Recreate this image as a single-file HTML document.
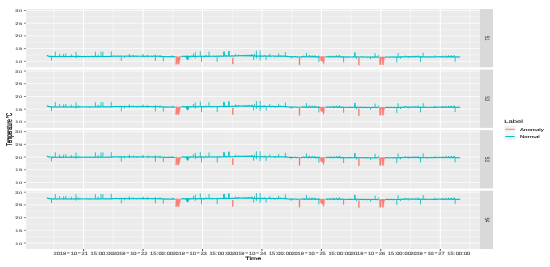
<!DOCTYPE html>
<html><head><meta charset="utf-8"><title>Temperature anomalies</title>
<style>
html,body{margin:0;padding:0;background:#fff;}
body{width:550px;height:267px;overflow:hidden;}
svg{display:block;filter:blur(0.2px);}
text{font-family:"Liberation Sans",sans-serif;text-rendering:geometricPrecision;stroke-width:1.5px;paint-order:stroke;}
.ax,.axx{stroke:#4D4D4D;} .ax{stroke-width:2px;} .axx{stroke-width:2.5px;} .st{stroke:#1A1A1A;stroke-width:0px;} .ti,.lt{stroke:#000;} .ti{stroke-width:3px;}
.tx{filter:url(#sb);}
.ax{font-size:88px;letter-spacing:6px;fill:#4D4D4D;}
.axx{font-size:86px;fill:#4D4D4D;}
.hy{font-size:140px;}
.st{font-size:96px;fill:#1A1A1A;}
.ti{font-size:110px;fill:#000;}
.lg{font-size:115px;fill:#000;stroke:#000;}
.lt{font-size:92px;fill:#000;}
</style></head>
<body>
<svg width="550" height="267" viewBox="0 0 550 267">
<defs><filter id="sb" x="-20%" y="-50%" width="140%" height="200%"><feGaussianBlur stdDeviation="0.12"/></filter></defs>
<rect width="550" height="267" fill="#fff"/>
<rect x="26.0" y="9.00" width="454.00" height="58.275" fill="#EBEBEB"/>
<line x1="26.0" x2="480.0" y1="16.85" y2="16.85" stroke="#fff" stroke-width="0.35"/>
<line x1="26.0" x2="480.0" y1="29.55" y2="29.55" stroke="#fff" stroke-width="0.35"/>
<line x1="26.0" x2="480.0" y1="42.25" y2="42.25" stroke="#fff" stroke-width="0.35"/>
<line x1="26.0" x2="480.0" y1="54.95" y2="54.95" stroke="#fff" stroke-width="0.35"/>
<line x1="53.87" x2="53.87" y1="9.00" y2="67.28" stroke="#fff" stroke-width="0.5"/>
<line x1="113.32" x2="113.32" y1="9.00" y2="67.28" stroke="#fff" stroke-width="0.5"/>
<line x1="172.78" x2="172.78" y1="9.00" y2="67.28" stroke="#fff" stroke-width="0.5"/>
<line x1="232.22" x2="232.22" y1="9.00" y2="67.28" stroke="#fff" stroke-width="0.5"/>
<line x1="291.68" x2="291.68" y1="9.00" y2="67.28" stroke="#fff" stroke-width="0.5"/>
<line x1="351.12" x2="351.12" y1="9.00" y2="67.28" stroke="#fff" stroke-width="0.5"/>
<line x1="410.58" x2="410.58" y1="9.00" y2="67.28" stroke="#fff" stroke-width="0.5"/>
<line x1="470.02" x2="470.02" y1="9.00" y2="67.28" stroke="#fff" stroke-width="0.5"/>
<line x1="26.0" x2="480.0" y1="10.50" y2="10.50" stroke="#fff" stroke-width="0.7"/>
<line x1="26.0" x2="480.0" y1="23.20" y2="23.20" stroke="#fff" stroke-width="0.7"/>
<line x1="26.0" x2="480.0" y1="35.90" y2="35.90" stroke="#fff" stroke-width="0.7"/>
<line x1="26.0" x2="480.0" y1="48.60" y2="48.60" stroke="#fff" stroke-width="0.7"/>
<line x1="26.0" x2="480.0" y1="61.30" y2="61.30" stroke="#fff" stroke-width="0.7"/>
<line x1="83.60" x2="83.60" y1="9.00" y2="67.28" stroke="#fff" stroke-width="1"/>
<line x1="143.05" x2="143.05" y1="9.00" y2="67.28" stroke="#fff" stroke-width="1"/>
<line x1="202.50" x2="202.50" y1="9.00" y2="67.28" stroke="#fff" stroke-width="1"/>
<line x1="261.95" x2="261.95" y1="9.00" y2="67.28" stroke="#fff" stroke-width="1"/>
<line x1="321.40" x2="321.40" y1="9.00" y2="67.28" stroke="#fff" stroke-width="1"/>
<line x1="380.85" x2="380.85" y1="9.00" y2="67.28" stroke="#fff" stroke-width="1"/>
<line x1="440.30" x2="440.30" y1="9.00" y2="67.28" stroke="#fff" stroke-width="1"/>
<rect x="480.0" y="9.00" width="13.0" height="58.275" fill="#D9D9D9"/>
<rect x="26.0" y="69.58" width="454.00" height="58.275" fill="#EBEBEB"/>
<line x1="26.0" x2="480.0" y1="77.42" y2="77.42" stroke="#fff" stroke-width="0.35"/>
<line x1="26.0" x2="480.0" y1="90.12" y2="90.12" stroke="#fff" stroke-width="0.35"/>
<line x1="26.0" x2="480.0" y1="102.82" y2="102.82" stroke="#fff" stroke-width="0.35"/>
<line x1="26.0" x2="480.0" y1="115.52" y2="115.52" stroke="#fff" stroke-width="0.35"/>
<line x1="53.87" x2="53.87" y1="69.58" y2="127.85" stroke="#fff" stroke-width="0.5"/>
<line x1="113.32" x2="113.32" y1="69.58" y2="127.85" stroke="#fff" stroke-width="0.5"/>
<line x1="172.78" x2="172.78" y1="69.58" y2="127.85" stroke="#fff" stroke-width="0.5"/>
<line x1="232.22" x2="232.22" y1="69.58" y2="127.85" stroke="#fff" stroke-width="0.5"/>
<line x1="291.68" x2="291.68" y1="69.58" y2="127.85" stroke="#fff" stroke-width="0.5"/>
<line x1="351.12" x2="351.12" y1="69.58" y2="127.85" stroke="#fff" stroke-width="0.5"/>
<line x1="410.58" x2="410.58" y1="69.58" y2="127.85" stroke="#fff" stroke-width="0.5"/>
<line x1="470.02" x2="470.02" y1="69.58" y2="127.85" stroke="#fff" stroke-width="0.5"/>
<line x1="26.0" x2="480.0" y1="71.07" y2="71.07" stroke="#fff" stroke-width="0.7"/>
<line x1="26.0" x2="480.0" y1="83.77" y2="83.77" stroke="#fff" stroke-width="0.7"/>
<line x1="26.0" x2="480.0" y1="96.47" y2="96.47" stroke="#fff" stroke-width="0.7"/>
<line x1="26.0" x2="480.0" y1="109.17" y2="109.17" stroke="#fff" stroke-width="0.7"/>
<line x1="26.0" x2="480.0" y1="121.87" y2="121.87" stroke="#fff" stroke-width="0.7"/>
<line x1="83.60" x2="83.60" y1="69.58" y2="127.85" stroke="#fff" stroke-width="1"/>
<line x1="143.05" x2="143.05" y1="69.58" y2="127.85" stroke="#fff" stroke-width="1"/>
<line x1="202.50" x2="202.50" y1="69.58" y2="127.85" stroke="#fff" stroke-width="1"/>
<line x1="261.95" x2="261.95" y1="69.58" y2="127.85" stroke="#fff" stroke-width="1"/>
<line x1="321.40" x2="321.40" y1="69.58" y2="127.85" stroke="#fff" stroke-width="1"/>
<line x1="380.85" x2="380.85" y1="69.58" y2="127.85" stroke="#fff" stroke-width="1"/>
<line x1="440.30" x2="440.30" y1="69.58" y2="127.85" stroke="#fff" stroke-width="1"/>
<rect x="480.0" y="69.58" width="13.0" height="58.275" fill="#D9D9D9"/>
<rect x="26.0" y="130.15" width="454.00" height="58.275" fill="#EBEBEB"/>
<line x1="26.0" x2="480.0" y1="138.00" y2="138.00" stroke="#fff" stroke-width="0.35"/>
<line x1="26.0" x2="480.0" y1="150.70" y2="150.70" stroke="#fff" stroke-width="0.35"/>
<line x1="26.0" x2="480.0" y1="163.40" y2="163.40" stroke="#fff" stroke-width="0.35"/>
<line x1="26.0" x2="480.0" y1="176.10" y2="176.10" stroke="#fff" stroke-width="0.35"/>
<line x1="53.87" x2="53.87" y1="130.15" y2="188.43" stroke="#fff" stroke-width="0.5"/>
<line x1="113.32" x2="113.32" y1="130.15" y2="188.43" stroke="#fff" stroke-width="0.5"/>
<line x1="172.78" x2="172.78" y1="130.15" y2="188.43" stroke="#fff" stroke-width="0.5"/>
<line x1="232.22" x2="232.22" y1="130.15" y2="188.43" stroke="#fff" stroke-width="0.5"/>
<line x1="291.68" x2="291.68" y1="130.15" y2="188.43" stroke="#fff" stroke-width="0.5"/>
<line x1="351.12" x2="351.12" y1="130.15" y2="188.43" stroke="#fff" stroke-width="0.5"/>
<line x1="410.58" x2="410.58" y1="130.15" y2="188.43" stroke="#fff" stroke-width="0.5"/>
<line x1="470.02" x2="470.02" y1="130.15" y2="188.43" stroke="#fff" stroke-width="0.5"/>
<line x1="26.0" x2="480.0" y1="131.65" y2="131.65" stroke="#fff" stroke-width="0.7"/>
<line x1="26.0" x2="480.0" y1="144.35" y2="144.35" stroke="#fff" stroke-width="0.7"/>
<line x1="26.0" x2="480.0" y1="157.05" y2="157.05" stroke="#fff" stroke-width="0.7"/>
<line x1="26.0" x2="480.0" y1="169.75" y2="169.75" stroke="#fff" stroke-width="0.7"/>
<line x1="26.0" x2="480.0" y1="182.45" y2="182.45" stroke="#fff" stroke-width="0.7"/>
<line x1="83.60" x2="83.60" y1="130.15" y2="188.43" stroke="#fff" stroke-width="1"/>
<line x1="143.05" x2="143.05" y1="130.15" y2="188.43" stroke="#fff" stroke-width="1"/>
<line x1="202.50" x2="202.50" y1="130.15" y2="188.43" stroke="#fff" stroke-width="1"/>
<line x1="261.95" x2="261.95" y1="130.15" y2="188.43" stroke="#fff" stroke-width="1"/>
<line x1="321.40" x2="321.40" y1="130.15" y2="188.43" stroke="#fff" stroke-width="1"/>
<line x1="380.85" x2="380.85" y1="130.15" y2="188.43" stroke="#fff" stroke-width="1"/>
<line x1="440.30" x2="440.30" y1="130.15" y2="188.43" stroke="#fff" stroke-width="1"/>
<rect x="480.0" y="130.15" width="13.0" height="58.275" fill="#D9D9D9"/>
<rect x="26.0" y="190.73" width="454.00" height="58.275" fill="#EBEBEB"/>
<line x1="26.0" x2="480.0" y1="198.57" y2="198.57" stroke="#fff" stroke-width="0.35"/>
<line x1="26.0" x2="480.0" y1="211.27" y2="211.27" stroke="#fff" stroke-width="0.35"/>
<line x1="26.0" x2="480.0" y1="223.97" y2="223.97" stroke="#fff" stroke-width="0.35"/>
<line x1="26.0" x2="480.0" y1="236.67" y2="236.67" stroke="#fff" stroke-width="0.35"/>
<line x1="53.87" x2="53.87" y1="190.73" y2="249.00" stroke="#fff" stroke-width="0.5"/>
<line x1="113.32" x2="113.32" y1="190.73" y2="249.00" stroke="#fff" stroke-width="0.5"/>
<line x1="172.78" x2="172.78" y1="190.73" y2="249.00" stroke="#fff" stroke-width="0.5"/>
<line x1="232.22" x2="232.22" y1="190.73" y2="249.00" stroke="#fff" stroke-width="0.5"/>
<line x1="291.68" x2="291.68" y1="190.73" y2="249.00" stroke="#fff" stroke-width="0.5"/>
<line x1="351.12" x2="351.12" y1="190.73" y2="249.00" stroke="#fff" stroke-width="0.5"/>
<line x1="410.58" x2="410.58" y1="190.73" y2="249.00" stroke="#fff" stroke-width="0.5"/>
<line x1="470.02" x2="470.02" y1="190.73" y2="249.00" stroke="#fff" stroke-width="0.5"/>
<line x1="26.0" x2="480.0" y1="192.22" y2="192.22" stroke="#fff" stroke-width="0.7"/>
<line x1="26.0" x2="480.0" y1="204.92" y2="204.92" stroke="#fff" stroke-width="0.7"/>
<line x1="26.0" x2="480.0" y1="217.62" y2="217.62" stroke="#fff" stroke-width="0.7"/>
<line x1="26.0" x2="480.0" y1="230.32" y2="230.32" stroke="#fff" stroke-width="0.7"/>
<line x1="26.0" x2="480.0" y1="243.02" y2="243.02" stroke="#fff" stroke-width="0.7"/>
<line x1="83.60" x2="83.60" y1="190.73" y2="249.00" stroke="#fff" stroke-width="1"/>
<line x1="143.05" x2="143.05" y1="190.73" y2="249.00" stroke="#fff" stroke-width="1"/>
<line x1="202.50" x2="202.50" y1="190.73" y2="249.00" stroke="#fff" stroke-width="1"/>
<line x1="261.95" x2="261.95" y1="190.73" y2="249.00" stroke="#fff" stroke-width="1"/>
<line x1="321.40" x2="321.40" y1="190.73" y2="249.00" stroke="#fff" stroke-width="1"/>
<line x1="380.85" x2="380.85" y1="190.73" y2="249.00" stroke="#fff" stroke-width="1"/>
<line x1="440.30" x2="440.30" y1="190.73" y2="249.00" stroke="#fff" stroke-width="1"/>
<rect x="480.0" y="190.73" width="13.0" height="58.275" fill="#D9D9D9"/>
<path d="M46.80,55.63 L47.50,55.66 L48.20,55.96 L48.90,56.31 L49.60,56.26 L50.30,56.28 L51.00,56.37 L51.70,56.39 L52.40,56.62 L53.10,56.70 L53.80,56.43 L54.50,56.45 L55.20,56.55 L55.90,56.55 L56.60,56.69 L57.30,56.57 L58.00,56.35 L58.70,56.51 L59.40,56.61 L60.10,56.58 L60.80,56.64 L61.50,56.44 L62.20,56.36 L62.90,56.62 L63.60,56.63 L64.30,56.55 L65.00,56.55 L65.70,56.37 L66.40,56.46 L67.10,56.70 L67.80,56.57 L68.50,56.48 L69.20,56.48 L69.90,56.39 L70.60,56.59 L71.30,56.70 L72.00,56.46 L72.70,56.42 L73.40,56.48 L74.10,56.47 L74.80,56.66 L75.50,56.61 L76.20,56.35 L76.90,56.44 L77.60,56.53 L78.30,56.54 L79.00,56.65 L79.70,56.47 L80.40,56.31 L81.10,56.53 L81.80,56.58 L82.50,56.55 L83.20,56.57 L83.90,56.36 L84.60,56.37 L85.30,56.63 L86.00,56.57 L86.70,56.49 L87.40,56.47 L88.10,56.33 L88.80,56.49 L89.50,56.68 L90.20,56.48 L90.90,56.42 L91.60,56.43 L92.30,56.39 L93.00,56.60 L93.70,56.63 L94.40,56.37 L95.10,56.40 L95.80,56.45 L96.50,56.47 L97.20,56.64 L97.90,56.50 L98.60,56.29 L99.30,56.44 L100.00,56.51 L100.70,56.52 L101.40,56.59 L102.10,56.36 L102.80,56.30 L103.50,56.54 L104.20,56.54 L104.90,56.50 L105.60,56.49 L106.30,56.29 L107.00,56.39 L107.70,56.62 L108.40,56.50 L109.10,56.43 L109.80,56.40 L110.50,56.27 L111.20,56.43 L111.90,56.48 L112.60,56.20 L113.30,56.13 L114.00,56.10 L114.70,56.10 L115.40,56.32 L116.10,56.25 L116.80,56.01 L117.50,56.10 L118.20,56.16 L118.90,56.19 L119.60,56.32 L120.30,56.12 L121.00,55.98 L121.70,56.19 L122.40,56.23 L123.10,56.23 L123.80,56.26 L124.50,56.02 L125.20,56.06 L125.90,56.30 L126.60,56.24 L127.30,56.21 L128.00,56.17 L128.70,56.01 L129.40,56.19 L130.10,56.37 L130.80,56.19 L131.50,56.15 L132.20,56.13 L132.90,56.08 L133.60,56.33 L134.30,56.34 L135.00,56.10 L135.70,56.13 L136.40,56.16 L137.10,56.19 L137.80,56.39 L138.50,56.23 L139.20,56.04 L139.90,56.19 L140.60,56.23 L141.30,56.27 L142.00,56.35 L142.70,56.11 L143.40,56.06 L144.10,56.29 L144.80,56.28 L145.50,56.28 L146.20,56.26 L146.90,56.04 L147.60,56.17 L148.30,56.38 L149.00,56.27 L149.70,56.24 L150.40,56.18 L151.10,56.08 L151.80,56.31 L152.50,56.40 L153.20,56.20 L153.90,56.19 L154.60,56.17 L155.30,56.18 L156.00,56.42 L156.70,56.33 L157.40,56.11 L158.10,56.21 L158.80,56.27 L159.50,56.37 L160.20,56.55 L160.90,56.37 L161.60,56.29 L162.30,56.51 L163.00,56.57 L163.70,56.66 L164.40,56.71 L165.10,56.49 L165.80,56.54 L166.50,56.76 L167.20,56.70 L167.90,56.70 L168.60,56.64 L169.30,56.46 L170.00,56.66 L170.70,56.82 L171.40,56.66 L172.10,56.64 L172.80,56.57 L173.50,56.53 L174.20,56.79 L174.90,56.78 L175.60,56.57 M181.20,56.38 L181.90,56.43 L182.60,56.50 L183.30,56.23 L184.00,56.20 L184.70,56.40 L185.40,56.38 L186.10,56.42 L186.80,56.38 L187.50,56.14 L188.20,56.28 L188.90,56.47 L189.60,56.36 L190.30,56.36 L191.00,56.26 L191.70,56.15 L192.40,56.40 L193.10,56.47 L193.80,56.28 L194.50,56.28 L195.20,56.21 L195.90,56.23 L196.60,56.48 L197.30,56.38 L198.00,56.18 L198.70,56.25 L199.40,56.24 L200.10,56.33 L200.80,56.47 L201.50,56.23 L202.20,56.13 L202.90,56.29 L203.60,56.29 L204.30,56.37 L205.00,56.37 L205.70,56.11 L206.40,56.17 L207.10,56.36 L207.80,56.31 L208.50,56.34 L209.20,56.24 L209.90,56.06 L210.60,56.27 L211.30,56.40 L212.00,56.26 L212.70,56.25 L213.40,56.14 L214.10,56.10 L214.80,56.36 L215.50,56.33 L216.20,56.14 L216.90,56.16 L217.60,56.09 L218.30,56.17 L219.00,56.37 L219.70,56.18 L220.40,56.02 L221.10,56.12 L221.80,56.11 L222.50,56.22 L223.20,56.28 L223.90,56.00 L224.60,55.98 L225.30,56.14 L226.00,56.12 L226.70,56.19 L227.40,56.12 L228.10,55.88 L228.80,56.02 L229.50,56.17 L230.20,56.08 L230.90,56.08 L231.60,55.93 L232.30,55.80 L233.00,56.03 L233.70,56.06 L234.40,55.89 L235.10,55.87 L235.80,55.74 L236.50,55.77 L237.20,56.03 L237.90,55.84 L238.60,55.15 L239.30,55.81 L240.00,55.77 L240.70,55.70 L241.40,55.67 L242.10,55.80 L242.80,55.71 L243.50,55.47 L244.20,55.65 L244.90,55.96 L245.60,55.96 L246.30,55.08 L247.00,55.68 L247.70,55.92 L248.40,55.89 L249.10,55.10 L249.80,55.81 L250.50,55.65 L251.20,55.87 L251.90,54.92 L252.60,55.90 L253.30,55.95 L254.00,55.84 L254.70,55.85 L255.40,56.16 L256.10,56.16 L256.80,56.01 L257.50,56.03 L258.20,55.94 L258.90,56.05 L259.60,56.26 L260.30,56.08 L261.00,55.95 L261.70,56.04 L262.40,56.01 L263.10,56.17 L263.80,56.24 L264.50,55.97 L265.20,55.96 L265.90,56.11 L266.60,56.10 L267.30,56.22 L268.00,56.14 L268.70,55.90 L269.40,56.06 L270.10,56.20 L270.80,56.14 L271.50,56.19 L272.20,56.03 L272.90,55.93 L273.60,56.20 L274.30,56.24 L275.00,56.12 L275.70,56.13 L276.40,55.99 L277.10,56.05 L277.80,56.31 L278.50,56.19 L279.20,56.06 L279.90,56.10 L280.60,56.03 L281.30,56.19 L282.00,56.33 L282.70,56.09 L283.40,56.03 L284.10,56.14 L284.80,56.19 L285.50,56.40 L286.20,56.44 L286.90,56.23 L287.60,56.37 L288.30,56.56 L289.00,56.60 L289.70,56.75 L290.40,56.64 L291.10,56.47 L291.80,56.71 L292.50,56.81 L293.20,56.75 L293.90,56.78 L294.60,56.62 L295.30,56.62 L296.00,56.91 L296.70,56.88 L297.40,56.77 L298.10,56.79 L298.80,56.69 M300.20,57.05 L300.90,56.86 L301.60,56.63 L302.30,56.81 L303.00,56.77 L303.70,56.24 L304.40,56.97 L305.10,56.75 L305.80,56.76 L306.50,55.91 L307.20,56.85 L307.90,57.01 L308.60,56.91 L309.30,55.55 L310.00,56.83 L310.70,56.94 L311.40,56.91 L312.10,55.78 L312.80,56.79 L313.50,56.70 L314.20,56.95 L314.90,55.82 L315.60,56.89 L316.30,56.90 L317.00,56.72 L317.70,56.80 L318.40,57.06 L319.10,56.94 L319.80,56.83 M325.40,56.62 L326.10,56.71 L326.80,57.00 L327.50,56.74 L328.20,56.40 L328.90,56.76 L329.60,56.93 L330.30,57.05 L331.00,56.22 L331.70,56.65 L332.40,56.92 L333.10,56.99 L333.80,56.06 L334.50,56.97 L335.20,56.78 L335.90,56.78 L336.60,55.96 L337.30,56.99 L338.00,56.91 L338.70,56.90 L339.40,55.57 L340.10,56.91 L340.80,57.11 L341.50,56.93 L342.20,56.86 L342.90,56.87 L343.60,56.82 L344.30,57.04 L345.00,57.08 L345.70,56.82 L346.40,56.84 L347.10,56.91 L347.80,56.92 L348.50,57.09 L349.20,56.97 L349.90,56.75 L350.60,56.90 L351.30,56.98 L352.00,56.99 L352.70,57.06 L353.40,56.85 L354.10,56.77 L354.80,57.02 L355.50,57.03 L356.20,56.98 L356.90,56.98 L357.60,56.78 L358.30,56.87 L359.00,57.12 L359.70,57.00 L360.40,56.94 L361.10,56.93 L361.80,56.83 L362.50,57.05 L363.20,57.19 L363.90,56.97 L364.60,56.95 L365.30,56.99 L366.00,56.99 L366.70,57.21 L367.40,57.15 L368.10,56.90 L368.80,56.99 L369.50,57.05 L370.20,57.08 L370.90,57.21 L371.60,57.02 L372.30,56.86 L373.00,57.07 L373.70,57.11 L374.40,57.11 L375.10,57.14 L375.80,56.91 L376.50,56.92 L377.20,57.17 L377.90,57.12 L378.60,57.07 M384.90,57.17 L385.60,57.20 L386.30,56.96 L387.00,56.98 L387.70,57.01 L388.40,57.03 L389.10,57.23 L389.80,57.09 L390.50,56.88 L391.20,57.02 L391.90,57.07 L392.60,57.11 L393.30,57.19 L394.00,56.95 L394.70,56.89 L395.40,57.12 L396.10,57.11 L396.80,57.11 L397.50,57.07 L398.20,56.83 L398.90,56.91 L399.60,57.10 L400.30,56.96 L401.00,56.90 L401.70,56.82 L402.40,56.69 L403.10,56.92 L403.80,57.03 L404.50,56.78 L405.20,56.06 L405.90,56.79 L406.60,56.79 L407.30,56.91 L408.00,56.45 L408.70,56.73 L409.40,56.81 L410.10,56.57 L410.80,56.60 L411.50,57.04 L412.20,56.83 L412.90,56.23 L413.60,56.74 L414.30,56.91 L415.00,56.95 L415.70,56.27 L416.40,56.72 L417.10,56.75 L417.80,56.99 L418.50,56.94 L419.20,56.93 L419.90,56.88 L420.60,56.70 L421.30,56.88 L422.00,57.05 L422.70,56.90 L423.40,56.87 L424.10,56.81 L424.80,56.76 L425.50,57.02 L426.20,57.03 L426.90,56.81 L427.60,56.84 L428.30,56.83 L429.00,56.88 L429.70,57.09 L430.40,56.93 L431.10,56.75 L431.80,56.87 L432.50,56.89 L433.20,56.97 L433.90,57.06 L434.60,56.80 L435.30,56.75 L436.00,56.96 L436.70,56.96 L437.40,56.78 L438.10,56.62 L438.80,56.73 L439.50,56.85 L440.20,56.65 L440.90,56.79 L441.60,56.95 L442.30,56.87 L443.00,56.11 L443.70,56.93 L444.40,57.08 L445.10,56.90 L445.80,56.02 L446.50,56.82 L447.20,56.85 L447.90,57.10 L448.60,55.95 L449.30,56.81 L450.00,56.89 L450.70,56.88 L451.40,55.78 L452.10,57.12 L452.80,56.90 L453.50,56.78 L454.20,55.76 L454.90,56.95 L455.60,57.03 L456.30,57.05 L457.00,56.79 L457.70,56.83 L458.40,57.04 L459.10,57.00 L459.60,56.95 L459.70,56.35" fill="none" stroke="#00BFC4" stroke-width="1.2" stroke-linejoin="round"/>
<path d="M51.50,56.45V60.70 M55.30,56.55V51.60 M59.60,56.54V53.79 M63.60,56.53V53.98 M65.80,56.53V53.48 M71.30,56.52V54.27 M76.00,51.86V58.16 M78.20,56.51V54.96 M95.40,56.48V51.73 M98.10,56.47V54.42 M101.00,56.47V51.72 M102.90,56.46V51.71 M111.30,56.35V51.50 M119.20,56.16V57.01 M121.30,56.17V60.92 M124.60,56.17V57.92 M129.40,54.04V57.34 M133.30,56.19V54.94 M136.70,56.20V56.95 M143.00,54.07V57.37 M147.80,54.88V57.08 M155.40,54.69V60.99 M160.00,55.01V57.11 M163.30,56.55V61.30 M172.30,56.65V55.30 M190.60,56.32V57.37 M193.40,56.31V53.56 M195.30,52.06V58.36 M197.90,56.30V57.05 M200.30,56.29V51.14 M201.50,56.29V61.74 M203.90,56.28V57.53 M206.00,56.27V54.92 M209.00,56.26V51.71 M217.20,56.19V61.74 M223.50,56.12V51.57 M224.50,56.11V51.56 M225.90,56.10V54.75 M228.60,56.07V51.02 M229.30,56.06V51.01 M235.60,55.86V54.01 M251.80,55.85V54.50 M253.60,55.93V60.08 M254.50,55.98V53.83 M256.40,50.60V58.40 M260.10,50.61V60.51 M264.10,56.08V54.73 M266.10,56.09V60.14 M269.80,56.10V53.65 M274.90,56.12V57.37 M277.70,56.13V56.88 M278.70,56.13V53.38 M281.10,56.14V55.29 M285.40,56.27V52.12 M291.20,56.67V58.42 M306.40,56.86V52.71 M316.20,56.88V57.63 M318.90,55.53V61.93 M342.20,56.92V56.07 M343.60,56.92V62.37 M354.60,56.94V52.49 M355.20,56.94V52.49 M356.50,56.94V58.69 M370.60,57.05V59.30 M375.10,57.05V53.20 M378.70,57.05V55.20 M396.80,57.05V62.50 M398.10,57.01V52.86 M400.50,56.91V58.66 M409.00,56.86V58.11 M418.10,56.88V55.13 M420.50,56.88V61.93 M423.20,56.89V52.74 M426.20,56.89V57.64 M434.80,56.91V55.36 M448.60,56.93V55.88 M455.10,56.94V61.69" fill="none" stroke="#00BFC4" stroke-width="0.85"/>
<path d="M185.70,56.45 L189.10,56.45 L188.20,59.65 L187.00,59.65Z" fill="#00BFC4" stroke="#00BFC4" stroke-width="0.4" stroke-linejoin="round"/>
<path d="M176.00,56.45 L177.40,56.45 L178.00,58.05 L178.60,56.45 L180.60,56.45 L179.00,64.35 L177.80,64.35 L177.20,61.75 L176.60,64.35 L175.60,64.35Z" fill="#F8766D" stroke="#F8766D" stroke-width="0.4" stroke-linejoin="round" opacity="0.9"/>
<path d="M320.20,56.55 L324.60,56.55 L324.30,61.25 L323.60,64.25 L322.80,61.75 L320.50,60.45Z" fill="#F8766D" stroke="#F8766D" stroke-width="0.4" stroke-linejoin="round" opacity="0.9"/>
<path d="M379.30,56.95 L381.40,56.95 L381.00,64.75 L379.60,64.75Z" fill="#F8766D" stroke="#F8766D" stroke-width="0.4" stroke-linejoin="round" opacity="0.9"/>
<path d="M381.40,56.95 L384.40,56.95 L384.30,58.25 L381.40,58.25Z" fill="#F8766D" stroke="#F8766D" stroke-width="0.4" stroke-linejoin="round" opacity="0.9"/>
<path d="M382.00,56.95 L384.40,56.95 L383.60,64.75 L382.20,64.75Z" fill="#F8766D" stroke="#F8766D" stroke-width="0.4" stroke-linejoin="round" opacity="0.9"/>
<path d="M232.80,57.65 L232.80,64.35" fill="none" stroke="#F8766D" stroke-width="1.3"/>
<path d="M299.50,56.35 L299.50,64.95" fill="none" stroke="#F8766D" stroke-width="1.3"/>
<path d="M358.90,58.05 L358.90,65.25" fill="none" stroke="#F8766D" stroke-width="1.3"/>
<path d="M46.80,106.03 L47.50,106.06 L48.20,106.36 L48.90,106.71 L49.60,106.66 L50.30,106.68 L51.00,106.77 L51.70,106.79 L52.40,107.02 L53.10,107.10 L53.80,106.83 L54.50,106.85 L55.20,106.95 L55.90,106.95 L56.60,107.09 L57.30,106.97 L58.00,106.75 L58.70,106.91 L59.40,107.01 L60.10,106.98 L60.80,107.04 L61.50,106.84 L62.20,106.76 L62.90,107.02 L63.60,107.03 L64.30,106.95 L65.00,106.95 L65.70,106.77 L66.40,106.86 L67.10,107.10 L67.80,106.97 L68.50,106.88 L69.20,106.88 L69.90,106.79 L70.60,106.99 L71.30,107.10 L72.00,106.86 L72.70,106.82 L73.40,106.88 L74.10,106.87 L74.80,107.06 L75.50,107.01 L76.20,106.75 L76.90,106.84 L77.60,106.93 L78.30,106.94 L79.00,107.05 L79.70,106.87 L80.40,106.71 L81.10,106.93 L81.80,106.98 L82.50,106.95 L83.20,106.97 L83.90,106.76 L84.60,106.77 L85.30,107.03 L86.00,106.97 L86.70,106.89 L87.40,106.87 L88.10,106.73 L88.80,106.89 L89.50,107.08 L90.20,106.88 L90.90,106.82 L91.60,106.83 L92.30,106.79 L93.00,107.00 L93.70,107.03 L94.40,106.77 L95.10,106.80 L95.80,106.85 L96.50,106.87 L97.20,107.04 L97.90,106.90 L98.60,106.69 L99.30,106.84 L100.00,106.91 L100.70,106.92 L101.40,106.99 L102.10,106.76 L102.80,106.70 L103.50,106.94 L104.20,106.94 L104.90,106.90 L105.60,106.89 L106.30,106.69 L107.00,106.79 L107.70,107.02 L108.40,106.90 L109.10,106.83 L109.80,106.80 L110.50,106.67 L111.20,106.83 L111.90,106.88 L112.60,106.60 L113.30,106.53 L114.00,106.50 L114.70,106.50 L115.40,106.72 L116.10,106.65 L116.80,106.41 L117.50,106.50 L118.20,106.56 L118.90,106.59 L119.60,106.72 L120.30,106.52 L121.00,106.38 L121.70,106.59 L122.40,106.63 L123.10,106.63 L123.80,106.66 L124.50,106.42 L125.20,106.46 L125.90,106.70 L126.60,106.64 L127.30,106.61 L128.00,106.57 L128.70,106.41 L129.40,106.59 L130.10,106.77 L130.80,106.59 L131.50,106.55 L132.20,106.53 L132.90,106.48 L133.60,106.73 L134.30,106.74 L135.00,106.50 L135.70,106.53 L136.40,106.56 L137.10,106.59 L137.80,106.79 L138.50,106.63 L139.20,106.44 L139.90,106.59 L140.60,106.63 L141.30,106.67 L142.00,106.75 L142.70,106.51 L143.40,106.46 L144.10,106.69 L144.80,106.68 L145.50,106.68 L146.20,106.66 L146.90,106.44 L147.60,106.57 L148.30,106.78 L149.00,106.67 L149.70,106.64 L150.40,106.58 L151.10,106.48 L151.80,106.71 L152.50,106.80 L153.20,106.60 L153.90,106.59 L154.60,106.57 L155.30,106.58 L156.00,106.82 L156.70,106.73 L157.40,106.51 L158.10,106.61 L158.80,106.67 L159.50,106.77 L160.20,106.95 L160.90,106.77 L161.60,106.69 L162.30,106.91 L163.00,106.97 L163.70,107.06 L164.40,107.11 L165.10,106.89 L165.80,106.94 L166.50,107.16 L167.20,107.10 L167.90,107.10 L168.60,107.04 L169.30,106.86 L170.00,107.06 L170.70,107.22 L171.40,107.06 L172.10,107.04 L172.80,106.97 L173.50,106.93 L174.20,107.19 L174.90,107.18 L175.60,106.97 M181.20,106.78 L181.90,106.83 L182.60,106.90 L183.30,106.63 L184.00,106.60 L184.70,106.80 L185.40,106.78 L186.10,106.82 L186.80,106.78 L187.50,106.54 L188.20,106.68 L188.90,106.87 L189.60,106.76 L190.30,106.76 L191.00,106.66 L191.70,106.55 L192.40,106.80 L193.10,106.87 L193.80,106.68 L194.50,106.68 L195.20,106.61 L195.90,106.63 L196.60,106.88 L197.30,106.78 L198.00,106.58 L198.70,106.65 L199.40,106.64 L200.10,106.73 L200.80,106.87 L201.50,106.63 L202.20,106.53 L202.90,106.69 L203.60,106.69 L204.30,106.77 L205.00,106.77 L205.70,106.51 L206.40,106.57 L207.10,106.76 L207.80,106.71 L208.50,106.74 L209.20,106.64 L209.90,106.46 L210.60,106.67 L211.30,106.80 L212.00,106.66 L212.70,106.65 L213.40,106.54 L214.10,106.50 L214.80,106.76 L215.50,106.73 L216.20,106.54 L216.90,106.56 L217.60,106.49 L218.30,106.57 L219.00,106.77 L219.70,106.58 L220.40,106.42 L221.10,106.52 L221.80,106.51 L222.50,106.62 L223.20,106.68 L223.90,106.40 L224.60,106.38 L225.30,106.54 L226.00,106.52 L226.70,106.59 L227.40,106.52 L228.10,106.28 L228.80,106.42 L229.50,106.57 L230.20,106.48 L230.90,106.48 L231.60,106.33 L232.30,106.20 L233.00,106.43 L233.70,106.46 L234.40,106.29 L235.10,106.27 L235.80,106.14 L236.50,106.17 L237.20,106.43 L237.90,106.24 L238.60,105.55 L239.30,106.21 L240.00,106.17 L240.70,106.10 L241.40,106.07 L242.10,106.20 L242.80,106.11 L243.50,105.87 L244.20,106.05 L244.90,106.36 L245.60,106.36 L246.30,105.48 L247.00,106.08 L247.70,106.32 L248.40,106.29 L249.10,105.50 L249.80,106.21 L250.50,106.05 L251.20,106.27 L251.90,105.32 L252.60,106.30 L253.30,106.35 L254.00,106.24 L254.70,106.25 L255.40,106.56 L256.10,106.56 L256.80,106.41 L257.50,106.43 L258.20,106.34 L258.90,106.45 L259.60,106.66 L260.30,106.48 L261.00,106.35 L261.70,106.44 L262.40,106.41 L263.10,106.57 L263.80,106.64 L264.50,106.37 L265.20,106.36 L265.90,106.51 L266.60,106.50 L267.30,106.62 L268.00,106.54 L268.70,106.30 L269.40,106.46 L270.10,106.60 L270.80,106.54 L271.50,106.59 L272.20,106.43 L272.90,106.33 L273.60,106.60 L274.30,106.64 L275.00,106.52 L275.70,106.53 L276.40,106.39 L277.10,106.45 L277.80,106.71 L278.50,106.59 L279.20,106.46 L279.90,106.50 L280.60,106.43 L281.30,106.59 L282.00,106.73 L282.70,106.49 L283.40,106.43 L284.10,106.54 L284.80,106.59 L285.50,106.80 L286.20,106.84 L286.90,106.63 L287.60,106.77 L288.30,106.96 L289.00,107.00 L289.70,107.15 L290.40,107.04 L291.10,106.87 L291.80,107.11 L292.50,107.21 L293.20,107.15 L293.90,107.18 L294.60,107.02 L295.30,107.02 L296.00,107.31 L296.70,107.28 L297.40,107.17 L298.10,107.19 L298.80,107.09 M300.20,107.45 L300.90,107.26 L301.60,107.03 L302.30,107.21 L303.00,107.17 L303.70,106.64 L304.40,107.37 L305.10,107.15 L305.80,107.16 L306.50,106.31 L307.20,107.25 L307.90,107.41 L308.60,107.31 L309.30,105.95 L310.00,107.23 L310.70,107.34 L311.40,107.31 L312.10,106.18 L312.80,107.19 L313.50,107.10 L314.20,107.35 L314.90,106.22 L315.60,107.29 L316.30,107.30 L317.00,107.12 L317.70,107.20 L318.40,107.46 L319.10,107.34 L319.80,107.23 M325.40,107.02 L326.10,107.11 L326.80,107.40 L327.50,107.14 L328.20,106.80 L328.90,107.16 L329.60,107.33 L330.30,107.45 L331.00,106.62 L331.70,107.05 L332.40,107.32 L333.10,107.39 L333.80,106.46 L334.50,107.37 L335.20,107.18 L335.90,107.18 L336.60,106.36 L337.30,107.39 L338.00,107.31 L338.70,107.30 L339.40,105.97 L340.10,107.31 L340.80,107.51 L341.50,107.33 L342.20,107.26 L342.90,107.27 L343.60,107.22 L344.30,107.44 L345.00,107.48 L345.70,107.22 L346.40,107.24 L347.10,107.31 L347.80,107.32 L348.50,107.49 L349.20,107.37 L349.90,107.15 L350.60,107.30 L351.30,107.38 L352.00,107.39 L352.70,107.46 L353.40,107.25 L354.10,107.17 L354.80,107.42 L355.50,107.43 L356.20,107.38 L356.90,107.38 L357.60,107.18 L358.30,107.27 L359.00,107.52 L359.70,107.40 L360.40,107.34 L361.10,107.33 L361.80,107.23 L362.50,107.45 L363.20,107.59 L363.90,107.37 L364.60,107.35 L365.30,107.39 L366.00,107.39 L366.70,107.61 L367.40,107.55 L368.10,107.30 L368.80,107.39 L369.50,107.45 L370.20,107.48 L370.90,107.61 L371.60,107.42 L372.30,107.26 L373.00,107.47 L373.70,107.51 L374.40,107.51 L375.10,107.54 L375.80,107.31 L376.50,107.32 L377.20,107.57 L377.90,107.52 L378.60,107.47 M384.90,107.57 L385.60,107.60 L386.30,107.36 L387.00,107.38 L387.70,107.41 L388.40,107.43 L389.10,107.63 L389.80,107.49 L390.50,107.28 L391.20,107.42 L391.90,107.47 L392.60,107.51 L393.30,107.59 L394.00,107.35 L394.70,107.29 L395.40,107.52 L396.10,107.51 L396.80,107.51 L397.50,107.47 L398.20,107.23 L398.90,107.31 L399.60,107.50 L400.30,107.36 L401.00,107.30 L401.70,107.22 L402.40,107.09 L403.10,107.32 L403.80,107.43 L404.50,107.18 L405.20,106.46 L405.90,107.19 L406.60,107.19 L407.30,107.31 L408.00,106.85 L408.70,107.13 L409.40,107.21 L410.10,106.97 L410.80,107.00 L411.50,107.44 L412.20,107.23 L412.90,106.63 L413.60,107.14 L414.30,107.31 L415.00,107.35 L415.70,106.67 L416.40,107.12 L417.10,107.15 L417.80,107.39 L418.50,107.34 L419.20,107.33 L419.90,107.28 L420.60,107.10 L421.30,107.28 L422.00,107.45 L422.70,107.30 L423.40,107.27 L424.10,107.21 L424.80,107.16 L425.50,107.42 L426.20,107.43 L426.90,107.21 L427.60,107.24 L428.30,107.23 L429.00,107.28 L429.70,107.49 L430.40,107.33 L431.10,107.15 L431.80,107.27 L432.50,107.29 L433.20,107.37 L433.90,107.46 L434.60,107.20 L435.30,107.15 L436.00,107.36 L436.70,107.36 L437.40,107.18 L438.10,107.02 L438.80,107.13 L439.50,107.25 L440.20,107.05 L440.90,107.19 L441.60,107.35 L442.30,107.27 L443.00,106.51 L443.70,107.33 L444.40,107.48 L445.10,107.30 L445.80,106.42 L446.50,107.22 L447.20,107.25 L447.90,107.50 L448.60,106.35 L449.30,107.21 L450.00,107.29 L450.70,107.28 L451.40,106.18 L452.10,107.52 L452.80,107.30 L453.50,107.18 L454.20,106.16 L454.90,107.35 L455.60,107.43 L456.30,107.45 L457.00,107.19 L457.70,107.23 L458.40,107.44 L459.10,107.40 L459.60,107.35 L459.70,106.75" fill="none" stroke="#00BFC4" stroke-width="1.2" stroke-linejoin="round"/>
<path d="M51.50,106.85V111.10 M55.30,106.95V102.00 M59.60,106.94V104.19 M63.60,106.93V104.38 M65.80,106.93V103.88 M71.30,106.92V104.67 M76.00,102.26V108.56 M78.20,106.91V105.36 M95.40,106.88V102.13 M98.10,106.87V104.82 M101.00,106.87V102.12 M102.90,106.86V102.11 M111.30,106.75V101.90 M119.20,106.56V107.41 M121.30,106.57V111.32 M124.60,106.57V108.32 M129.40,104.44V107.74 M133.30,106.59V105.34 M136.70,106.60V107.35 M143.00,104.47V107.77 M147.80,105.28V107.48 M155.40,105.09V111.39 M160.00,105.41V107.51 M163.30,106.95V111.70 M172.30,107.05V105.70 M190.60,106.72V107.77 M193.40,106.71V103.96 M195.30,102.46V108.76 M197.90,106.70V107.45 M200.30,106.69V101.54 M201.50,106.69V112.14 M203.90,106.68V107.93 M206.00,106.67V105.32 M209.00,106.66V102.11 M217.20,106.59V112.14 M223.50,106.52V101.97 M224.50,106.51V101.96 M225.90,106.50V105.15 M228.60,106.47V101.42 M229.30,106.46V101.41 M235.60,106.26V104.41 M251.80,106.25V104.90 M253.60,106.33V110.48 M254.50,106.38V104.23 M256.40,101.00V108.80 M260.10,101.01V110.91 M264.10,106.48V105.13 M266.10,106.49V110.54 M269.80,106.50V104.05 M274.90,106.52V107.77 M277.70,106.53V107.28 M278.70,106.53V103.78 M281.10,106.54V105.69 M285.40,106.67V102.52 M291.20,107.07V108.82 M306.40,107.26V103.11 M316.20,107.28V108.03 M318.90,105.93V112.33 M342.20,107.32V106.47 M343.60,107.32V112.77 M354.60,107.34V102.89 M355.20,107.34V102.89 M356.50,107.34V109.09 M370.60,107.45V109.70 M375.10,107.45V103.60 M378.70,107.45V105.60 M396.80,107.45V112.90 M398.10,107.41V103.26 M400.50,107.31V109.06 M409.00,107.26V108.51 M418.10,107.28V105.53 M420.50,107.28V112.33 M423.20,107.29V103.14 M426.20,107.29V108.04 M434.80,107.31V105.76 M448.60,107.33V106.28 M455.10,107.34V112.09" fill="none" stroke="#00BFC4" stroke-width="0.85"/>
<path d="M185.70,106.85 L189.10,106.85 L188.20,110.05 L187.00,110.05Z" fill="#00BFC4" stroke="#00BFC4" stroke-width="0.4" stroke-linejoin="round"/>
<path d="M176.00,106.85 L177.40,106.85 L178.00,108.45 L178.60,106.85 L180.60,106.85 L179.00,114.75 L177.80,114.75 L177.20,112.15 L176.60,114.75 L175.60,114.75Z" fill="#F8766D" stroke="#F8766D" stroke-width="0.4" stroke-linejoin="round" opacity="0.9"/>
<path d="M320.20,106.95 L324.60,106.95 L324.30,111.65 L323.60,114.65 L322.80,112.15 L320.50,110.85Z" fill="#F8766D" stroke="#F8766D" stroke-width="0.4" stroke-linejoin="round" opacity="0.9"/>
<path d="M379.30,107.35 L381.40,107.35 L381.00,115.15 L379.60,115.15Z" fill="#F8766D" stroke="#F8766D" stroke-width="0.4" stroke-linejoin="round" opacity="0.9"/>
<path d="M381.40,107.35 L384.40,107.35 L384.30,108.65 L381.40,108.65Z" fill="#F8766D" stroke="#F8766D" stroke-width="0.4" stroke-linejoin="round" opacity="0.9"/>
<path d="M382.00,107.35 L384.40,107.35 L383.60,115.15 L382.20,115.15Z" fill="#F8766D" stroke="#F8766D" stroke-width="0.4" stroke-linejoin="round" opacity="0.9"/>
<path d="M232.80,108.05 L232.80,114.75" fill="none" stroke="#F8766D" stroke-width="1.3"/>
<path d="M299.50,106.75 L299.50,115.35" fill="none" stroke="#F8766D" stroke-width="1.3"/>
<path d="M358.90,108.45 L358.90,115.65" fill="none" stroke="#F8766D" stroke-width="1.3"/>
<path d="M46.80,156.33 L47.50,156.36 L48.20,156.66 L48.90,157.01 L49.60,156.96 L50.30,156.98 L51.00,157.07 L51.70,157.09 L52.40,157.32 L53.10,157.40 L53.80,157.13 L54.50,157.15 L55.20,157.25 L55.90,157.25 L56.60,157.39 L57.30,157.27 L58.00,157.05 L58.70,157.21 L59.40,157.31 L60.10,157.28 L60.80,157.34 L61.50,157.14 L62.20,157.06 L62.90,157.32 L63.60,157.33 L64.30,157.25 L65.00,157.25 L65.70,157.07 L66.40,157.16 L67.10,157.40 L67.80,157.27 L68.50,157.18 L69.20,157.18 L69.90,157.09 L70.60,157.29 L71.30,157.40 L72.00,157.16 L72.70,157.12 L73.40,157.18 L74.10,157.17 L74.80,157.36 L75.50,157.31 L76.20,157.05 L76.90,157.14 L77.60,157.23 L78.30,157.24 L79.00,157.35 L79.70,157.17 L80.40,157.01 L81.10,157.23 L81.80,157.28 L82.50,157.25 L83.20,157.27 L83.90,157.06 L84.60,157.07 L85.30,157.33 L86.00,157.27 L86.70,157.19 L87.40,157.17 L88.10,157.03 L88.80,157.19 L89.50,157.38 L90.20,157.18 L90.90,157.12 L91.60,157.13 L92.30,157.09 L93.00,157.30 L93.70,157.33 L94.40,157.07 L95.10,157.10 L95.80,157.15 L96.50,157.17 L97.20,157.34 L97.90,157.20 L98.60,156.99 L99.30,157.14 L100.00,157.21 L100.70,157.22 L101.40,157.29 L102.10,157.06 L102.80,157.00 L103.50,157.24 L104.20,157.24 L104.90,157.20 L105.60,157.19 L106.30,156.99 L107.00,157.09 L107.70,157.32 L108.40,157.20 L109.10,157.13 L109.80,157.10 L110.50,156.97 L111.20,157.13 L111.90,157.18 L112.60,156.90 L113.30,156.83 L114.00,156.80 L114.70,156.80 L115.40,157.02 L116.10,156.95 L116.80,156.71 L117.50,156.80 L118.20,156.86 L118.90,156.89 L119.60,157.02 L120.30,156.82 L121.00,156.68 L121.70,156.89 L122.40,156.93 L123.10,156.93 L123.80,156.96 L124.50,156.72 L125.20,156.76 L125.90,157.00 L126.60,156.94 L127.30,156.91 L128.00,156.87 L128.70,156.71 L129.40,156.89 L130.10,157.07 L130.80,156.89 L131.50,156.85 L132.20,156.83 L132.90,156.78 L133.60,157.03 L134.30,157.04 L135.00,156.80 L135.70,156.83 L136.40,156.86 L137.10,156.89 L137.80,157.09 L138.50,156.93 L139.20,156.74 L139.90,156.89 L140.60,156.93 L141.30,156.97 L142.00,157.05 L142.70,156.81 L143.40,156.76 L144.10,156.99 L144.80,156.98 L145.50,156.98 L146.20,156.96 L146.90,156.74 L147.60,156.87 L148.30,157.08 L149.00,156.97 L149.70,156.94 L150.40,156.88 L151.10,156.78 L151.80,157.01 L152.50,157.10 L153.20,156.90 L153.90,156.89 L154.60,156.87 L155.30,156.88 L156.00,157.12 L156.70,157.03 L157.40,156.81 L158.10,156.91 L158.80,156.97 L159.50,157.07 L160.20,157.25 L160.90,157.07 L161.60,156.99 L162.30,157.21 L163.00,157.27 L163.70,157.36 L164.40,157.41 L165.10,157.19 L165.80,157.24 L166.50,157.46 L167.20,157.40 L167.90,157.40 L168.60,157.34 L169.30,157.16 L170.00,157.36 L170.70,157.52 L171.40,157.36 L172.10,157.34 L172.80,157.27 L173.50,157.23 L174.20,157.49 L174.90,157.48 L175.60,157.27 M181.20,157.08 L181.90,157.13 L182.60,157.20 L183.30,156.93 L184.00,156.90 L184.70,157.10 L185.40,157.08 L186.10,157.12 L186.80,157.08 L187.50,156.84 L188.20,156.98 L188.90,157.17 L189.60,157.06 L190.30,157.06 L191.00,156.96 L191.70,156.85 L192.40,157.10 L193.10,157.17 L193.80,156.98 L194.50,156.98 L195.20,156.91 L195.90,156.93 L196.60,157.18 L197.30,157.08 L198.00,156.88 L198.70,156.95 L199.40,156.94 L200.10,157.03 L200.80,157.17 L201.50,156.93 L202.20,156.83 L202.90,156.99 L203.60,156.99 L204.30,157.07 L205.00,157.07 L205.70,156.81 L206.40,156.87 L207.10,157.06 L207.80,157.01 L208.50,157.04 L209.20,156.94 L209.90,156.76 L210.60,156.97 L211.30,157.10 L212.00,156.96 L212.70,156.95 L213.40,156.84 L214.10,156.80 L214.80,157.06 L215.50,157.03 L216.20,156.84 L216.90,156.86 L217.60,156.79 L218.30,156.87 L219.00,157.07 L219.70,156.88 L220.40,156.72 L221.10,156.82 L221.80,156.81 L222.50,156.92 L223.20,156.98 L223.90,156.70 L224.60,156.68 L225.30,156.84 L226.00,156.82 L226.70,156.89 L227.40,156.82 L228.10,156.58 L228.80,156.72 L229.50,156.87 L230.20,156.78 L230.90,156.78 L231.60,156.63 L232.30,156.50 L233.00,156.73 L233.70,156.76 L234.40,156.59 L235.10,156.57 L235.80,156.44 L236.50,156.47 L237.20,156.73 L237.90,156.54 L238.60,155.85 L239.30,156.51 L240.00,156.47 L240.70,156.40 L241.40,156.37 L242.10,156.50 L242.80,156.41 L243.50,156.17 L244.20,156.35 L244.90,156.66 L245.60,156.66 L246.30,155.78 L247.00,156.38 L247.70,156.62 L248.40,156.59 L249.10,155.80 L249.80,156.51 L250.50,156.35 L251.20,156.57 L251.90,155.62 L252.60,156.60 L253.30,156.65 L254.00,156.54 L254.70,156.55 L255.40,156.86 L256.10,156.86 L256.80,156.71 L257.50,156.73 L258.20,156.64 L258.90,156.75 L259.60,156.96 L260.30,156.78 L261.00,156.65 L261.70,156.74 L262.40,156.71 L263.10,156.87 L263.80,156.94 L264.50,156.67 L265.20,156.66 L265.90,156.81 L266.60,156.80 L267.30,156.92 L268.00,156.84 L268.70,156.60 L269.40,156.76 L270.10,156.90 L270.80,156.84 L271.50,156.89 L272.20,156.73 L272.90,156.63 L273.60,156.90 L274.30,156.94 L275.00,156.82 L275.70,156.83 L276.40,156.69 L277.10,156.75 L277.80,157.01 L278.50,156.89 L279.20,156.76 L279.90,156.80 L280.60,156.73 L281.30,156.89 L282.00,157.03 L282.70,156.79 L283.40,156.73 L284.10,156.84 L284.80,156.89 L285.50,157.10 L286.20,157.14 L286.90,156.93 L287.60,157.07 L288.30,157.26 L289.00,157.30 L289.70,157.45 L290.40,157.34 L291.10,157.17 L291.80,157.41 L292.50,157.51 L293.20,157.45 L293.90,157.48 L294.60,157.32 L295.30,157.32 L296.00,157.61 L296.70,157.58 L297.40,157.47 L298.10,157.49 L298.80,157.39 M300.20,157.75 L300.90,157.56 L301.60,157.33 L302.30,157.51 L303.00,157.47 L303.70,156.94 L304.40,157.67 L305.10,157.45 L305.80,157.46 L306.50,156.61 L307.20,157.55 L307.90,157.71 L308.60,157.61 L309.30,156.25 L310.00,157.53 L310.70,157.64 L311.40,157.61 L312.10,156.48 L312.80,157.49 L313.50,157.40 L314.20,157.65 L314.90,156.52 L315.60,157.59 L316.30,157.60 L317.00,157.42 L317.70,157.50 L318.40,157.76 L319.10,157.64 L319.80,157.53 M325.40,157.32 L326.10,157.41 L326.80,157.70 L327.50,157.44 L328.20,157.10 L328.90,157.46 L329.60,157.63 L330.30,157.75 L331.00,156.92 L331.70,157.35 L332.40,157.62 L333.10,157.69 L333.80,156.76 L334.50,157.67 L335.20,157.48 L335.90,157.48 L336.60,156.66 L337.30,157.69 L338.00,157.61 L338.70,157.60 L339.40,156.27 L340.10,157.61 L340.80,157.81 L341.50,157.63 L342.20,157.56 L342.90,157.57 L343.60,157.52 L344.30,157.74 L345.00,157.78 L345.70,157.52 L346.40,157.54 L347.10,157.61 L347.80,157.62 L348.50,157.79 L349.20,157.67 L349.90,157.45 L350.60,157.60 L351.30,157.68 L352.00,157.69 L352.70,157.76 L353.40,157.55 L354.10,157.47 L354.80,157.72 L355.50,157.73 L356.20,157.68 L356.90,157.68 L357.60,157.48 L358.30,157.57 L359.00,157.82 L359.70,157.70 L360.40,157.64 L361.10,157.63 L361.80,157.53 L362.50,157.75 L363.20,157.89 L363.90,157.67 L364.60,157.65 L365.30,157.69 L366.00,157.69 L366.70,157.91 L367.40,157.85 L368.10,157.60 L368.80,157.69 L369.50,157.75 L370.20,157.78 L370.90,157.91 L371.60,157.72 L372.30,157.56 L373.00,157.77 L373.70,157.81 L374.40,157.81 L375.10,157.84 L375.80,157.61 L376.50,157.62 L377.20,157.87 L377.90,157.82 L378.60,157.77 M384.90,157.87 L385.60,157.90 L386.30,157.66 L387.00,157.68 L387.70,157.71 L388.40,157.73 L389.10,157.93 L389.80,157.79 L390.50,157.58 L391.20,157.72 L391.90,157.77 L392.60,157.81 L393.30,157.89 L394.00,157.65 L394.70,157.59 L395.40,157.82 L396.10,157.81 L396.80,157.81 L397.50,157.77 L398.20,157.53 L398.90,157.61 L399.60,157.80 L400.30,157.66 L401.00,157.60 L401.70,157.52 L402.40,157.39 L403.10,157.62 L403.80,157.73 L404.50,157.48 L405.20,156.76 L405.90,157.49 L406.60,157.49 L407.30,157.61 L408.00,157.15 L408.70,157.43 L409.40,157.51 L410.10,157.27 L410.80,157.30 L411.50,157.74 L412.20,157.53 L412.90,156.93 L413.60,157.44 L414.30,157.61 L415.00,157.65 L415.70,156.97 L416.40,157.42 L417.10,157.45 L417.80,157.69 L418.50,157.64 L419.20,157.63 L419.90,157.58 L420.60,157.40 L421.30,157.58 L422.00,157.75 L422.70,157.60 L423.40,157.57 L424.10,157.51 L424.80,157.46 L425.50,157.72 L426.20,157.73 L426.90,157.51 L427.60,157.54 L428.30,157.53 L429.00,157.58 L429.70,157.79 L430.40,157.63 L431.10,157.45 L431.80,157.57 L432.50,157.59 L433.20,157.67 L433.90,157.76 L434.60,157.50 L435.30,157.45 L436.00,157.66 L436.70,157.66 L437.40,157.48 L438.10,157.32 L438.80,157.43 L439.50,157.55 L440.20,157.35 L440.90,157.49 L441.60,157.65 L442.30,157.57 L443.00,156.81 L443.70,157.63 L444.40,157.78 L445.10,157.60 L445.80,156.72 L446.50,157.52 L447.20,157.55 L447.90,157.80 L448.60,156.65 L449.30,157.51 L450.00,157.59 L450.70,157.58 L451.40,156.48 L452.10,157.82 L452.80,157.60 L453.50,157.48 L454.20,156.46 L454.90,157.65 L455.60,157.73 L456.30,157.75 L457.00,157.49 L457.70,157.53 L458.40,157.74 L459.10,157.70 L459.60,157.65 L459.70,157.05" fill="none" stroke="#00BFC4" stroke-width="1.2" stroke-linejoin="round"/>
<path d="M51.50,157.15V161.40 M55.30,157.25V152.30 M59.60,157.24V154.49 M63.60,157.23V154.68 M65.80,157.23V154.18 M71.30,157.22V154.97 M76.00,152.56V158.86 M78.20,157.21V155.66 M95.40,157.18V152.43 M98.10,157.17V155.12 M101.00,157.17V152.42 M102.90,157.16V152.41 M111.30,157.05V152.20 M119.20,156.86V157.71 M121.30,156.87V161.62 M124.60,156.87V158.62 M129.40,154.74V158.03 M133.30,156.89V155.64 M136.70,156.90V157.65 M143.00,154.77V158.07 M147.80,155.58V157.78 M155.40,155.39V161.69 M160.00,155.71V157.81 M163.30,157.25V162.00 M172.30,157.35V156.00 M190.60,157.02V158.07 M193.40,157.01V154.26 M195.30,152.76V159.06 M197.90,157.00V157.75 M200.30,156.99V151.84 M201.50,156.99V162.44 M203.90,156.98V158.23 M206.00,156.97V155.62 M209.00,156.96V152.41 M217.20,156.89V162.44 M223.50,156.82V152.27 M224.50,156.81V152.26 M225.90,156.80V155.45 M228.60,156.77V151.72 M229.30,156.76V151.71 M235.60,156.56V154.71 M251.80,156.55V155.20 M253.60,156.63V160.78 M254.50,156.68V154.53 M256.40,151.30V159.10 M260.10,151.31V161.21 M264.10,156.78V155.43 M266.10,156.79V160.84 M269.80,156.80V154.35 M274.90,156.82V158.07 M277.70,156.83V157.58 M278.70,156.83V154.08 M281.10,156.84V155.99 M285.40,156.97V152.82 M291.20,157.37V159.12 M306.40,157.56V153.41 M316.20,157.58V158.33 M318.90,156.23V162.63 M342.20,157.62V156.77 M343.60,157.62V163.07 M354.60,157.64V153.19 M355.20,157.64V153.19 M356.50,157.64V159.39 M370.60,157.75V160.00 M375.10,157.75V153.90 M378.70,157.75V155.90 M396.80,157.75V163.20 M398.10,157.71V153.56 M400.50,157.61V159.36 M409.00,157.56V158.81 M418.10,157.58V155.83 M420.50,157.58V162.63 M423.20,157.59V153.44 M426.20,157.59V158.34 M434.80,157.61V156.06 M448.60,157.63V156.58 M455.10,157.64V162.39" fill="none" stroke="#00BFC4" stroke-width="0.85"/>
<path d="M185.70,157.15 L189.10,157.15 L188.20,160.35 L187.00,160.35Z" fill="#00BFC4" stroke="#00BFC4" stroke-width="0.4" stroke-linejoin="round"/>
<path d="M176.00,157.15 L177.40,157.15 L178.00,158.75 L178.60,157.15 L180.60,157.15 L179.00,165.05 L177.80,165.05 L177.20,162.45 L176.60,165.05 L175.60,165.05Z" fill="#F8766D" stroke="#F8766D" stroke-width="0.4" stroke-linejoin="round" opacity="0.9"/>
<path d="M320.20,157.25 L324.60,157.25 L324.30,161.95 L323.60,164.95 L322.80,162.45 L320.50,161.15Z" fill="#F8766D" stroke="#F8766D" stroke-width="0.4" stroke-linejoin="round" opacity="0.9"/>
<path d="M379.30,157.65 L381.40,157.65 L381.00,165.45 L379.60,165.45Z" fill="#F8766D" stroke="#F8766D" stroke-width="0.4" stroke-linejoin="round" opacity="0.9"/>
<path d="M381.40,157.65 L384.40,157.65 L384.30,158.95 L381.40,158.95Z" fill="#F8766D" stroke="#F8766D" stroke-width="0.4" stroke-linejoin="round" opacity="0.9"/>
<path d="M382.00,157.65 L384.40,157.65 L383.60,165.45 L382.20,165.45Z" fill="#F8766D" stroke="#F8766D" stroke-width="0.4" stroke-linejoin="round" opacity="0.9"/>
<path d="M232.80,158.35 L232.80,165.05" fill="none" stroke="#F8766D" stroke-width="1.3"/>
<path d="M299.50,157.05 L299.50,165.65" fill="none" stroke="#F8766D" stroke-width="1.3"/>
<path d="M358.90,158.75 L358.90,165.95" fill="none" stroke="#F8766D" stroke-width="1.3"/>
<path d="M46.80,198.03 L47.50,198.06 L48.20,198.36 L48.90,198.71 L49.60,198.66 L50.30,198.68 L51.00,198.77 L51.70,198.79 L52.40,199.02 L53.10,199.10 L53.80,198.83 L54.50,198.85 L55.20,198.95 L55.90,198.95 L56.60,199.09 L57.30,198.97 L58.00,198.75 L58.70,198.91 L59.40,199.01 L60.10,198.98 L60.80,199.04 L61.50,198.84 L62.20,198.76 L62.90,199.02 L63.60,199.03 L64.30,198.95 L65.00,198.95 L65.70,198.77 L66.40,198.86 L67.10,199.10 L67.80,198.97 L68.50,198.88 L69.20,198.88 L69.90,198.79 L70.60,198.99 L71.30,199.10 L72.00,198.86 L72.70,198.82 L73.40,198.88 L74.10,198.87 L74.80,199.06 L75.50,199.01 L76.20,198.75 L76.90,198.84 L77.60,198.93 L78.30,198.94 L79.00,199.05 L79.70,198.87 L80.40,198.71 L81.10,198.93 L81.80,198.98 L82.50,198.95 L83.20,198.97 L83.90,198.76 L84.60,198.77 L85.30,199.03 L86.00,198.97 L86.70,198.89 L87.40,198.87 L88.10,198.73 L88.80,198.89 L89.50,199.08 L90.20,198.88 L90.90,198.82 L91.60,198.83 L92.30,198.79 L93.00,199.00 L93.70,199.03 L94.40,198.77 L95.10,198.80 L95.80,198.85 L96.50,198.87 L97.20,199.04 L97.90,198.90 L98.60,198.69 L99.30,198.84 L100.00,198.91 L100.70,198.92 L101.40,198.99 L102.10,198.76 L102.80,198.70 L103.50,198.94 L104.20,198.94 L104.90,198.90 L105.60,198.89 L106.30,198.69 L107.00,198.79 L107.70,199.02 L108.40,198.90 L109.10,198.83 L109.80,198.80 L110.50,198.67 L111.20,198.83 L111.90,198.88 L112.60,198.60 L113.30,198.53 L114.00,198.50 L114.70,198.50 L115.40,198.72 L116.10,198.65 L116.80,198.41 L117.50,198.50 L118.20,198.56 L118.90,198.59 L119.60,198.72 L120.30,198.52 L121.00,198.38 L121.70,198.59 L122.40,198.63 L123.10,198.63 L123.80,198.66 L124.50,198.42 L125.20,198.46 L125.90,198.70 L126.60,198.64 L127.30,198.61 L128.00,198.57 L128.70,198.41 L129.40,198.59 L130.10,198.77 L130.80,198.59 L131.50,198.55 L132.20,198.53 L132.90,198.48 L133.60,198.73 L134.30,198.74 L135.00,198.50 L135.70,198.53 L136.40,198.56 L137.10,198.59 L137.80,198.79 L138.50,198.63 L139.20,198.44 L139.90,198.59 L140.60,198.63 L141.30,198.67 L142.00,198.75 L142.70,198.51 L143.40,198.46 L144.10,198.69 L144.80,198.68 L145.50,198.68 L146.20,198.66 L146.90,198.44 L147.60,198.57 L148.30,198.78 L149.00,198.67 L149.70,198.64 L150.40,198.58 L151.10,198.48 L151.80,198.71 L152.50,198.80 L153.20,198.60 L153.90,198.59 L154.60,198.57 L155.30,198.58 L156.00,198.82 L156.70,198.73 L157.40,198.51 L158.10,198.61 L158.80,198.67 L159.50,198.77 L160.20,198.95 L160.90,198.77 L161.60,198.69 L162.30,198.91 L163.00,198.97 L163.70,199.06 L164.40,199.11 L165.10,198.89 L165.80,198.94 L166.50,199.16 L167.20,199.10 L167.90,199.10 L168.60,199.04 L169.30,198.86 L170.00,199.06 L170.70,199.22 L171.40,199.06 L172.10,199.04 L172.80,198.97 L173.50,198.93 L174.20,199.19 L174.90,199.18 L175.60,198.97 M181.20,198.78 L181.90,198.83 L182.60,198.90 L183.30,198.63 L184.00,198.60 L184.70,198.80 L185.40,198.78 L186.10,198.82 L186.80,198.78 L187.50,198.54 L188.20,198.68 L188.90,198.87 L189.60,198.76 L190.30,198.76 L191.00,198.66 L191.70,198.55 L192.40,198.80 L193.10,198.87 L193.80,198.68 L194.50,198.68 L195.20,198.61 L195.90,198.63 L196.60,198.88 L197.30,198.78 L198.00,198.58 L198.70,198.65 L199.40,198.64 L200.10,198.73 L200.80,198.87 L201.50,198.63 L202.20,198.53 L202.90,198.69 L203.60,198.69 L204.30,198.77 L205.00,198.77 L205.70,198.51 L206.40,198.57 L207.10,198.76 L207.80,198.71 L208.50,198.74 L209.20,198.64 L209.90,198.46 L210.60,198.67 L211.30,198.80 L212.00,198.66 L212.70,198.65 L213.40,198.54 L214.10,198.50 L214.80,198.76 L215.50,198.73 L216.20,198.54 L216.90,198.56 L217.60,198.49 L218.30,198.57 L219.00,198.77 L219.70,198.58 L220.40,198.42 L221.10,198.52 L221.80,198.51 L222.50,198.62 L223.20,198.68 L223.90,198.40 L224.60,198.38 L225.30,198.54 L226.00,198.52 L226.70,198.59 L227.40,198.52 L228.10,198.28 L228.80,198.42 L229.50,198.57 L230.20,198.48 L230.90,198.48 L231.60,198.33 L232.30,198.20 L233.00,198.43 L233.70,198.46 L234.40,198.29 L235.10,198.27 L235.80,198.14 L236.50,198.17 L237.20,198.43 L237.90,198.24 L238.60,197.55 L239.30,198.21 L240.00,198.17 L240.70,198.10 L241.40,198.07 L242.10,198.20 L242.80,198.11 L243.50,197.87 L244.20,198.05 L244.90,198.36 L245.60,198.36 L246.30,197.48 L247.00,198.08 L247.70,198.32 L248.40,198.29 L249.10,197.50 L249.80,198.21 L250.50,198.05 L251.20,198.27 L251.90,197.32 L252.60,198.30 L253.30,198.35 L254.00,198.24 L254.70,198.25 L255.40,198.56 L256.10,198.56 L256.80,198.41 L257.50,198.43 L258.20,198.34 L258.90,198.45 L259.60,198.66 L260.30,198.48 L261.00,198.35 L261.70,198.44 L262.40,198.41 L263.10,198.57 L263.80,198.64 L264.50,198.37 L265.20,198.36 L265.90,198.51 L266.60,198.50 L267.30,198.62 L268.00,198.54 L268.70,198.30 L269.40,198.46 L270.10,198.60 L270.80,198.54 L271.50,198.59 L272.20,198.43 L272.90,198.33 L273.60,198.60 L274.30,198.64 L275.00,198.52 L275.70,198.53 L276.40,198.39 L277.10,198.45 L277.80,198.71 L278.50,198.59 L279.20,198.46 L279.90,198.50 L280.60,198.43 L281.30,198.59 L282.00,198.73 L282.70,198.49 L283.40,198.43 L284.10,198.54 L284.80,198.59 L285.50,198.80 L286.20,198.84 L286.90,198.63 L287.60,198.77 L288.30,198.96 L289.00,199.00 L289.70,199.15 L290.40,199.04 L291.10,198.87 L291.80,199.11 L292.50,199.21 L293.20,199.15 L293.90,199.18 L294.60,199.02 L295.30,199.02 L296.00,199.31 L296.70,199.28 L297.40,199.17 L298.10,199.19 L298.80,199.09 M300.20,199.45 L300.90,199.26 L301.60,199.03 L302.30,199.21 L303.00,199.17 L303.70,198.64 L304.40,199.37 L305.10,199.15 L305.80,199.16 L306.50,198.31 L307.20,199.25 L307.90,199.41 L308.60,199.31 L309.30,197.95 L310.00,199.23 L310.70,199.34 L311.40,199.31 L312.10,198.18 L312.80,199.19 L313.50,199.10 L314.20,199.35 L314.90,198.22 L315.60,199.29 L316.30,199.30 L317.00,199.12 L317.70,199.20 L318.40,199.46 L319.10,199.34 L319.80,199.23 M325.40,199.02 L326.10,199.11 L326.80,199.40 L327.50,199.14 L328.20,198.80 L328.90,199.16 L329.60,199.33 L330.30,199.45 L331.00,198.62 L331.70,199.05 L332.40,199.32 L333.10,199.39 L333.80,198.46 L334.50,199.37 L335.20,199.18 L335.90,199.18 L336.60,198.36 L337.30,199.39 L338.00,199.31 L338.70,199.30 L339.40,197.97 L340.10,199.31 L340.80,199.51 L341.50,199.33 L342.20,199.26 L342.90,199.27 L343.60,199.22 L344.30,199.44 L345.00,199.48 L345.70,199.22 L346.40,199.24 L347.10,199.31 L347.80,199.32 L348.50,199.49 L349.20,199.37 L349.90,199.15 L350.60,199.30 L351.30,199.38 L352.00,199.39 L352.70,199.46 L353.40,199.25 L354.10,199.17 L354.80,199.42 L355.50,199.43 L356.20,199.38 L356.90,199.38 L357.60,199.18 L358.30,199.27 L359.00,199.52 L359.70,199.40 L360.40,199.34 L361.10,199.33 L361.80,199.23 L362.50,199.45 L363.20,199.59 L363.90,199.37 L364.60,199.35 L365.30,199.39 L366.00,199.39 L366.70,199.61 L367.40,199.55 L368.10,199.30 L368.80,199.39 L369.50,199.45 L370.20,199.48 L370.90,199.61 L371.60,199.42 L372.30,199.26 L373.00,199.47 L373.70,199.51 L374.40,199.51 L375.10,199.54 L375.80,199.31 L376.50,199.32 L377.20,199.57 L377.90,199.52 L378.60,199.47 M384.90,199.57 L385.60,199.60 L386.30,199.36 L387.00,199.38 L387.70,199.41 L388.40,199.43 L389.10,199.63 L389.80,199.49 L390.50,199.28 L391.20,199.42 L391.90,199.47 L392.60,199.51 L393.30,199.59 L394.00,199.35 L394.70,199.29 L395.40,199.52 L396.10,199.51 L396.80,199.51 L397.50,199.47 L398.20,199.23 L398.90,199.31 L399.60,199.50 L400.30,199.36 L401.00,199.30 L401.70,199.22 L402.40,199.09 L403.10,199.32 L403.80,199.43 L404.50,199.18 L405.20,198.46 L405.90,199.19 L406.60,199.19 L407.30,199.31 L408.00,198.85 L408.70,199.13 L409.40,199.21 L410.10,198.97 L410.80,199.00 L411.50,199.44 L412.20,199.23 L412.90,198.63 L413.60,199.14 L414.30,199.31 L415.00,199.35 L415.70,198.67 L416.40,199.12 L417.10,199.15 L417.80,199.39 L418.50,199.34 L419.20,199.33 L419.90,199.28 L420.60,199.10 L421.30,199.28 L422.00,199.45 L422.70,199.30 L423.40,199.27 L424.10,199.21 L424.80,199.16 L425.50,199.42 L426.20,199.43 L426.90,199.21 L427.60,199.24 L428.30,199.23 L429.00,199.28 L429.70,199.49 L430.40,199.33 L431.10,199.15 L431.80,199.27 L432.50,199.29 L433.20,199.37 L433.90,199.46 L434.60,199.20 L435.30,199.15 L436.00,199.36 L436.70,199.36 L437.40,199.18 L438.10,199.02 L438.80,199.13 L439.50,199.25 L440.20,199.05 L440.90,199.19 L441.60,199.35 L442.30,199.27 L443.00,198.51 L443.70,199.33 L444.40,199.48 L445.10,199.30 L445.80,198.42 L446.50,199.22 L447.20,199.25 L447.90,199.50 L448.60,198.35 L449.30,199.21 L450.00,199.29 L450.70,199.28 L451.40,198.18 L452.10,199.52 L452.80,199.30 L453.50,199.18 L454.20,198.16 L454.90,199.35 L455.60,199.43 L456.30,199.45 L457.00,199.19 L457.70,199.23 L458.40,199.44 L459.10,199.40 L459.60,199.35 L459.70,198.75" fill="none" stroke="#00BFC4" stroke-width="1.2" stroke-linejoin="round"/>
<path d="M51.50,198.85V203.10 M55.30,198.95V194.00 M59.60,198.94V196.19 M63.60,198.93V196.38 M65.80,198.93V195.88 M71.30,198.92V196.67 M76.00,194.26V200.56 M78.20,198.91V197.36 M95.40,198.88V194.13 M98.10,198.87V196.82 M101.00,198.87V194.12 M102.90,198.86V194.11 M111.30,198.75V193.90 M119.20,198.56V199.41 M121.30,198.57V203.32 M124.60,198.57V200.32 M129.40,196.44V199.74 M133.30,198.59V197.34 M136.70,198.60V199.35 M143.00,196.47V199.77 M147.80,197.28V199.48 M155.40,197.09V203.39 M160.00,197.41V199.51 M163.30,198.95V203.70 M172.30,199.05V197.70 M190.60,198.72V199.77 M193.40,198.71V195.96 M195.30,194.46V200.76 M197.90,198.70V199.45 M200.30,198.69V193.54 M201.50,198.69V204.14 M203.90,198.68V199.93 M206.00,198.67V197.32 M209.00,198.66V194.11 M217.20,198.59V204.14 M223.50,198.52V193.97 M224.50,198.51V193.96 M225.90,198.50V197.15 M228.60,198.47V193.42 M229.30,198.46V193.41 M235.60,198.26V196.41 M251.80,198.25V196.90 M253.60,198.33V202.48 M254.50,198.38V196.23 M256.40,193.00V200.80 M260.10,193.01V202.91 M264.10,198.48V197.13 M266.10,198.49V202.54 M269.80,198.50V196.05 M274.90,198.52V199.77 M277.70,198.53V199.28 M278.70,198.53V195.78 M281.10,198.54V197.69 M285.40,198.67V194.52 M291.20,199.07V200.82 M306.40,199.26V195.11 M316.20,199.28V200.03 M318.90,197.93V204.33 M342.20,199.32V198.47 M343.60,199.32V204.77 M354.60,199.34V194.89 M355.20,199.34V194.89 M356.50,199.34V201.09 M370.60,199.45V201.70 M375.10,199.45V195.60 M378.70,199.45V197.60 M396.80,199.45V204.90 M398.10,199.41V195.26 M400.50,199.31V201.06 M409.00,199.26V200.51 M418.10,199.28V197.53 M420.50,199.28V204.33 M423.20,199.29V195.14 M426.20,199.29V200.04 M434.80,199.31V197.76 M448.60,199.33V198.28 M455.10,199.34V204.09" fill="none" stroke="#00BFC4" stroke-width="0.85"/>
<path d="M185.70,198.85 L189.10,198.85 L188.20,202.05 L187.00,202.05Z" fill="#00BFC4" stroke="#00BFC4" stroke-width="0.4" stroke-linejoin="round"/>
<path d="M176.00,198.85 L177.40,198.85 L178.00,200.45 L178.60,198.85 L180.60,198.85 L179.00,206.75 L177.80,206.75 L177.20,204.15 L176.60,206.75 L175.60,206.75Z" fill="#F8766D" stroke="#F8766D" stroke-width="0.4" stroke-linejoin="round" opacity="0.9"/>
<path d="M320.20,198.95 L324.60,198.95 L324.30,203.65 L323.60,206.65 L322.80,204.15 L320.50,202.85Z" fill="#F8766D" stroke="#F8766D" stroke-width="0.4" stroke-linejoin="round" opacity="0.9"/>
<path d="M379.30,199.35 L381.40,199.35 L381.00,207.15 L379.60,207.15Z" fill="#F8766D" stroke="#F8766D" stroke-width="0.4" stroke-linejoin="round" opacity="0.9"/>
<path d="M381.40,199.35 L384.40,199.35 L384.30,200.65 L381.40,200.65Z" fill="#F8766D" stroke="#F8766D" stroke-width="0.4" stroke-linejoin="round" opacity="0.9"/>
<path d="M382.00,199.35 L384.40,199.35 L383.60,207.15 L382.20,207.15Z" fill="#F8766D" stroke="#F8766D" stroke-width="0.4" stroke-linejoin="round" opacity="0.9"/>
<path d="M232.80,200.05 L232.80,206.75" fill="none" stroke="#F8766D" stroke-width="1.3"/>
<path d="M299.50,198.75 L299.50,207.35" fill="none" stroke="#F8766D" stroke-width="1.3"/>
<path d="M358.90,200.45 L358.90,207.65" fill="none" stroke="#F8766D" stroke-width="1.3"/>
<line x1="23.9" x2="26.0" y1="10.50" y2="10.50" stroke="#333" stroke-width="0.6"/>
<line x1="23.9" x2="26.0" y1="23.20" y2="23.20" stroke="#333" stroke-width="0.6"/>
<line x1="23.9" x2="26.0" y1="35.90" y2="35.90" stroke="#333" stroke-width="0.6"/>
<line x1="23.9" x2="26.0" y1="48.60" y2="48.60" stroke="#333" stroke-width="0.6"/>
<line x1="23.9" x2="26.0" y1="61.30" y2="61.30" stroke="#333" stroke-width="0.6"/>
<line x1="23.9" x2="26.0" y1="71.07" y2="71.07" stroke="#333" stroke-width="0.6"/>
<line x1="23.9" x2="26.0" y1="83.77" y2="83.77" stroke="#333" stroke-width="0.6"/>
<line x1="23.9" x2="26.0" y1="96.47" y2="96.47" stroke="#333" stroke-width="0.6"/>
<line x1="23.9" x2="26.0" y1="109.17" y2="109.17" stroke="#333" stroke-width="0.6"/>
<line x1="23.9" x2="26.0" y1="121.87" y2="121.87" stroke="#333" stroke-width="0.6"/>
<line x1="23.9" x2="26.0" y1="131.65" y2="131.65" stroke="#333" stroke-width="0.6"/>
<line x1="23.9" x2="26.0" y1="144.35" y2="144.35" stroke="#333" stroke-width="0.6"/>
<line x1="23.9" x2="26.0" y1="157.05" y2="157.05" stroke="#333" stroke-width="0.6"/>
<line x1="23.9" x2="26.0" y1="169.75" y2="169.75" stroke="#333" stroke-width="0.6"/>
<line x1="23.9" x2="26.0" y1="182.45" y2="182.45" stroke="#333" stroke-width="0.6"/>
<line x1="23.9" x2="26.0" y1="192.22" y2="192.22" stroke="#333" stroke-width="0.6"/>
<line x1="23.9" x2="26.0" y1="204.92" y2="204.92" stroke="#333" stroke-width="0.6"/>
<line x1="23.9" x2="26.0" y1="217.62" y2="217.62" stroke="#333" stroke-width="0.6"/>
<line x1="23.9" x2="26.0" y1="230.32" y2="230.32" stroke="#333" stroke-width="0.6"/>
<line x1="23.9" x2="26.0" y1="243.02" y2="243.02" stroke="#333" stroke-width="0.6"/>
<line x1="83.60" x2="83.60" y1="249.00" y2="250.90" stroke="#333" stroke-width="0.9"/>
<line x1="143.05" x2="143.05" y1="249.00" y2="250.90" stroke="#333" stroke-width="0.9"/>
<line x1="202.50" x2="202.50" y1="249.00" y2="250.90" stroke="#333" stroke-width="0.9"/>
<line x1="261.95" x2="261.95" y1="249.00" y2="250.90" stroke="#333" stroke-width="0.9"/>
<line x1="321.40" x2="321.40" y1="249.00" y2="250.90" stroke="#333" stroke-width="0.9"/>
<line x1="380.85" x2="380.85" y1="249.00" y2="250.90" stroke="#333" stroke-width="0.9"/>
<line x1="440.30" x2="440.30" y1="249.00" y2="250.90" stroke="#333" stroke-width="0.9"/>
<rect x="504.2" y="125.70" width="11.5" height="7.2" fill="#F2F2F2" stroke="#fff" stroke-width="0.5"/>
<line x1="505.20" x2="514.70" y1="129.30" y2="129.30" stroke="#F8766D" stroke-width="0.95"/>
<rect x="504.2" y="132.90" width="11.5" height="7.2" fill="#F2F2F2" stroke="#fff" stroke-width="0.5"/>
<line x1="505.20" x2="514.70" y1="136.50" y2="136.50" stroke="#00BFC4" stroke-width="0.95"/>
<g filter="url(#sb)">
<text class="ax" text-anchor="end" transform="translate(22.6,12.00) scale(0.06670000000000001,0.0417)">30</text>
<text class="ax" text-anchor="end" transform="translate(22.6,24.70) scale(0.06670000000000001,0.0417)">25</text>
<text class="ax" text-anchor="end" transform="translate(22.6,37.40) scale(0.06670000000000001,0.0417)">20</text>
<text class="ax" text-anchor="end" transform="translate(22.6,50.10) scale(0.06670000000000001,0.0417)">15</text>
<text class="ax" text-anchor="end" transform="translate(22.6,62.80) scale(0.06670000000000001,0.0417)">10</text>
<text class="ax" text-anchor="end" transform="translate(22.6,72.57) scale(0.06670000000000001,0.0417)">30</text>
<text class="ax" text-anchor="end" transform="translate(22.6,85.27) scale(0.06670000000000001,0.0417)">25</text>
<text class="ax" text-anchor="end" transform="translate(22.6,97.97) scale(0.06670000000000001,0.0417)">20</text>
<text class="ax" text-anchor="end" transform="translate(22.6,110.67) scale(0.06670000000000001,0.0417)">15</text>
<text class="ax" text-anchor="end" transform="translate(22.6,123.37) scale(0.06670000000000001,0.0417)">10</text>
<text class="ax" text-anchor="end" transform="translate(22.6,133.15) scale(0.06670000000000001,0.0417)">30</text>
<text class="ax" text-anchor="end" transform="translate(22.6,145.85) scale(0.06670000000000001,0.0417)">25</text>
<text class="ax" text-anchor="end" transform="translate(22.6,158.55) scale(0.06670000000000001,0.0417)">20</text>
<text class="ax" text-anchor="end" transform="translate(22.6,171.25) scale(0.06670000000000001,0.0417)">15</text>
<text class="ax" text-anchor="end" transform="translate(22.6,183.95) scale(0.06670000000000001,0.0417)">10</text>
<text class="ax" text-anchor="end" transform="translate(22.6,193.72) scale(0.06670000000000001,0.0417)">30</text>
<text class="ax" text-anchor="end" transform="translate(22.6,206.42) scale(0.06670000000000001,0.0417)">25</text>
<text class="ax" text-anchor="end" transform="translate(22.6,219.12) scale(0.06670000000000001,0.0417)">20</text>
<text class="ax" text-anchor="end" transform="translate(22.6,231.82) scale(0.06670000000000001,0.0417)">15</text>
<text class="ax" text-anchor="end" transform="translate(22.6,244.52) scale(0.06670000000000001,0.0417)">10</text>
<text class="axx" text-anchor="middle" x="-425.8 -379.3 -332.8 -286.4 -227.9 -169.4 -122.9 -64.5 -6.0 40.5 84.7 128.9 175.4 214.8 254.1 300.6 340.0 379.3 425.8" transform="translate(83.60,254.9) scale(0.06670000000000001,0.05421)">2019<tspan class="hy">-</tspan>10<tspan class="hy">-</tspan>21 15:00:00</text>
<text class="axx" text-anchor="middle" x="-425.8 -379.3 -332.8 -286.4 -227.9 -169.4 -122.9 -64.5 -6.0 40.5 84.7 128.9 175.4 214.8 254.1 300.6 340.0 379.3 425.8" transform="translate(143.05,254.9) scale(0.06670000000000001,0.05421)">2019<tspan class="hy">-</tspan>10<tspan class="hy">-</tspan>22 15:00:00</text>
<text class="axx" text-anchor="middle" x="-425.8 -379.3 -332.8 -286.4 -227.9 -169.4 -122.9 -64.5 -6.0 40.5 84.7 128.9 175.4 214.8 254.1 300.6 340.0 379.3 425.8" transform="translate(202.50,254.9) scale(0.06670000000000001,0.05421)">2019<tspan class="hy">-</tspan>10<tspan class="hy">-</tspan>23 15:00:00</text>
<text class="axx" text-anchor="middle" x="-425.8 -379.3 -332.8 -286.4 -227.9 -169.4 -122.9 -64.5 -6.0 40.5 84.7 128.9 175.4 214.8 254.1 300.6 340.0 379.3 425.8" transform="translate(261.95,254.9) scale(0.06670000000000001,0.05421)">2019<tspan class="hy">-</tspan>10<tspan class="hy">-</tspan>24 15:00:00</text>
<text class="axx" text-anchor="middle" x="-425.8 -379.3 -332.8 -286.4 -227.9 -169.4 -122.9 -64.5 -6.0 40.5 84.7 128.9 175.4 214.8 254.1 300.6 340.0 379.3 425.8" transform="translate(321.40,254.9) scale(0.06670000000000001,0.05421)">2019<tspan class="hy">-</tspan>10<tspan class="hy">-</tspan>25 15:00:00</text>
<text class="axx" text-anchor="middle" x="-425.8 -379.3 -332.8 -286.4 -227.9 -169.4 -122.9 -64.5 -6.0 40.5 84.7 128.9 175.4 214.8 254.1 300.6 340.0 379.3 425.8" transform="translate(380.85,254.9) scale(0.06670000000000001,0.05421)">2019<tspan class="hy">-</tspan>10<tspan class="hy">-</tspan>26 15:00:00</text>
<text class="axx" text-anchor="middle" x="-425.8 -379.3 -332.8 -286.4 -227.9 -169.4 -122.9 -64.5 -6.0 40.5 84.7 128.9 175.4 214.8 254.1 300.6 340.0 379.3 425.8" transform="translate(440.30,254.9) scale(0.06670000000000001,0.05421)">2019<tspan class="hy">-</tspan>10<tspan class="hy">-</tspan>27 15:00:00</text>
<text class="st" text-anchor="middle" transform="translate(484.8,38.14) scale(0.06670000000000001,0.0417) rotate(90)">S1</text>
<text class="st" text-anchor="middle" transform="translate(484.8,98.71) scale(0.06670000000000001,0.0417) rotate(90)">S2</text>
<text class="st" text-anchor="middle" transform="translate(484.8,159.29) scale(0.06670000000000001,0.0417) rotate(90)">S3</text>
<text class="st" text-anchor="middle" transform="translate(484.8,219.86) scale(0.06670000000000001,0.0417) rotate(90)">S4</text>
<text class="ti" text-anchor="middle" transform="translate(253.3,259.7) scale(0.06670000000000001,0.0417)">Time</text>
<text class="ti" text-anchor="middle" transform="translate(11.6,129.30) scale(0.07670500000000001,0.042534) rotate(-90)">Temperature °C</text>
<text class="lg" transform="translate(504.3,122.6) scale(0.06670000000000001,0.0417)">Label</text>
<text class="lt" transform="translate(519.9,130.60) scale(0.06670000000000001,0.0417)">Anomaly</text>
<text class="lt" transform="translate(519.9,137.80) scale(0.06670000000000001,0.0417)">Normal</text>
</g>
</svg>
</body></html>
